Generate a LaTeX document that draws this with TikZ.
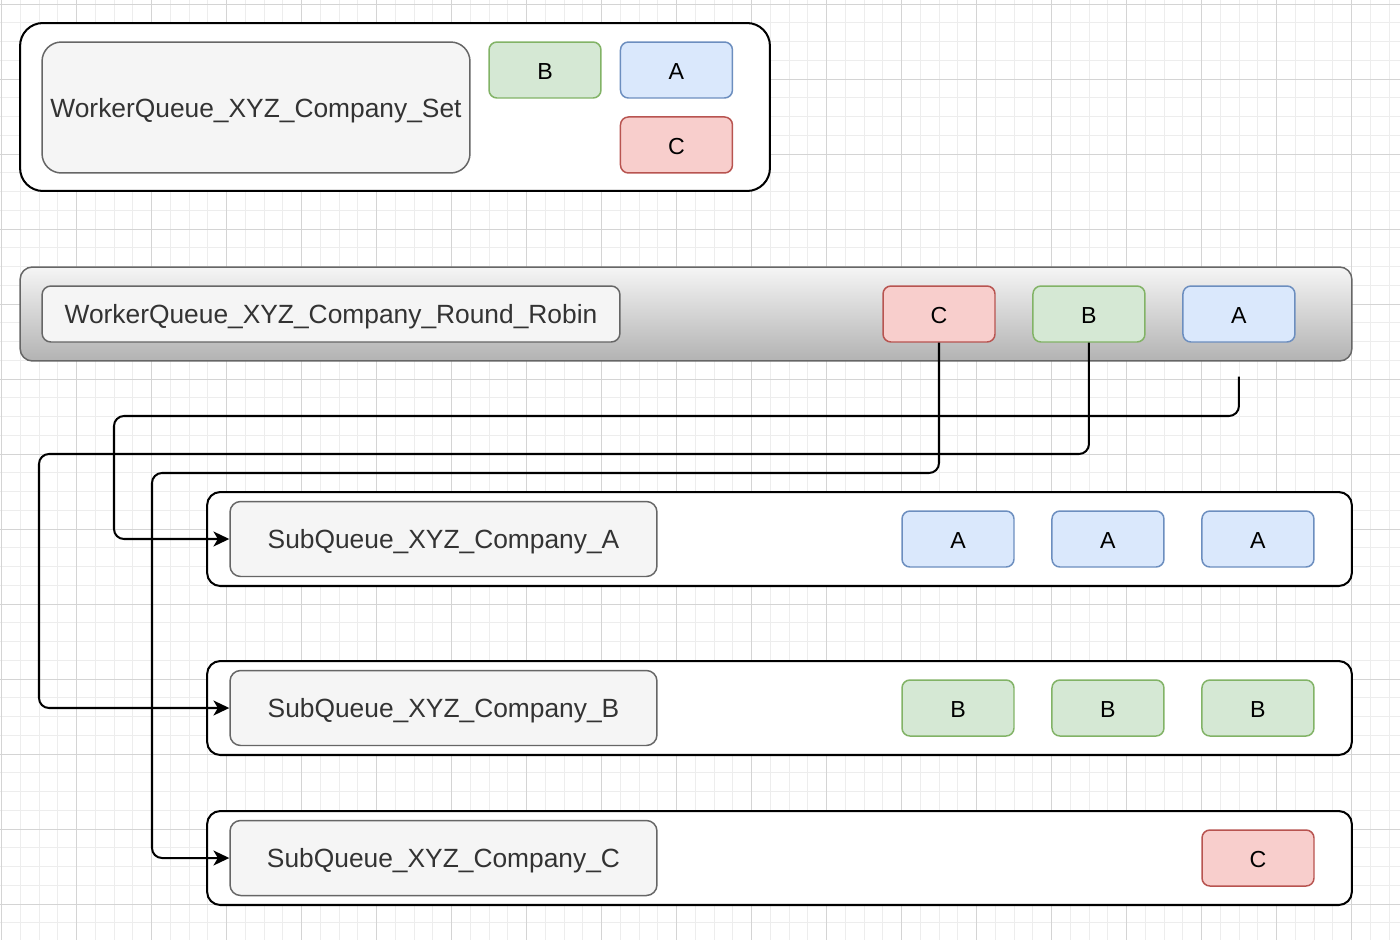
\documentclass[tikz,border=0pt]{standalone}
\usepackage{fontspec}
\setmainfont{Liberation Sans}
\usetikzlibrary{positioning,arrows.meta}

\definecolor{redfill}{HTML}{F8CECC}
\definecolor{redline}{HTML}{B85450}
\definecolor{greenfill}{HTML}{D5E8D4}
\definecolor{greenline}{HTML}{82B366}
\definecolor{bluefill}{HTML}{DAE8FC}
\definecolor{blueline}{HTML}{6C8EBF}
\definecolor{namefill}{HTML}{F5F5F5}
\definecolor{nameline}{HTML}{666666}

\begin{document}
\begin{tikzpicture}[x=0.02cm,y=-0.02cm,
    gridmin/.style={draw=black!7,line width=0.55pt},
    gridmaj/.style={draw=black!17,line width=0.55pt},
% Item styles
    itemr/.style={rectangle,rounded corners=4.5pt,draw=redline,fill=redfill,
		line width=0.85pt,minimum width=2.24cm,minimum height=1.12cm,
		text height=10.9pt,font=\fontsize{13.2pt}{16pt}\selectfont},
    itemg/.style={itemr,draw=greenline,fill=greenfill},
    itemb/.style={itemr,draw=blueline,fill=bluefill},
% Queue styles
    qname/.style={rectangle,rounded corners=5pt,draw=nameline,fill=namefill,
		line width=0.85pt,text=black!80,inner sep=0pt,text height=14.2pt,
		font=\fontsize{15pt}{18pt}\selectfont},
    qbox/.style={rectangle,rounded corners=7.5pt,draw,fill=white,
		line width=1.15pt,minimum width=22.9cm,minimum height=1.88cm},
    link/.style={draw,line width=1.15pt,rounded corners=0.2cm,
		-{Stealth[length=9pt,width=8.5pt,inset=2.5pt]}}
    ]
   \useasboundingbox (0,0) rectangle (1400,940);
   \fill [white] (0,0) rectangle (1400,940);
%%% Background grid
   \foreach \i in {0,...,74}
      \draw [gridmin] ({1.5+18.75*\i},0) -- ({1.5+18.75*\i},940);
   \foreach \j in {0,...,49}
      \draw [gridmin] (0,{4+18.75*\j}) -- (1400,{4+18.75*\j});
   \foreach \i in {0,...,18}
      \draw [gridmaj] ({1.5+75*\i},0) -- ({1.5+75*\i},940);
   \foreach \j in {0,...,12}
      \draw [gridmaj] (0,{4+75*\j}) -- (1400,{4+75*\j});

%%% Set queue
   \begin{scope}[node distance=2.63cm,on grid]
      \node [rectangle,rounded corners=13pt,draw,fill=white,line width=1.15pt,
             minimum width=15cm,minimum height=3.36cm] (setbox) at (395,107) {};
      \node [qname,rounded corners=11pt,minimum width=8.56cm,minimum height=2.62cm]
            (setname) at (256,107.5) {WorkerQueue\_XYZ\_Company\_Set};
      \node [itemg] (setb) at (545,70) {B};
      \node [itemb,right=of setb] (seta) {A};
      \node [itemr,below=1.5cm of seta] (setc) {C};
   \end{scope}

%%% Round robin queue
   \begin{scope}[node distance=3cm,on grid]
      \node [rectangle,rounded corners=7pt,draw=nameline,line width=0.85pt,
             top color=black!4,bottom color=black!30,
             minimum width=26.64cm,minimum height=1.88cm] (rrbar) at (686,314) {};
      \node [qname,minimum width=11.56cm,minimum height=1.12cm]
            (rrname) at (331,314) {WorkerQueue\_XYZ\_Company\_Round\_Robin};
      \node [itemr] (rrc) at (939,314) {C};
      \node [itemg,right=of rrc] (rrb) {B};
      \node [itemb,right=of rrb] (rra) {A};
   \end{scope}

%%% Sub queues
   \begin{scope}[node distance=3cm,on grid,
		sqname/.style={qname,rounded corners=6pt,minimum width=8.54cm,
		minimum height=1.5cm}]
      \node [qbox] (sqa) at (779.5,539) {};
      \node [sqname] (qa) at (443.5,539) {SubQueue\_XYZ\_Company\_A};
      \node [itemb] (qa1) at (958,539) {A};
      \node [itemb,right=of qa1] (qa2) {A};
      \node [itemb,right=of qa2] (qa3) {A};

      \node [qbox] (sqb) at (779.5,708) {};
      \node [sqname] (qb) at (443.5,708) {SubQueue\_XYZ\_Company\_B};
      \node [itemg] (qb1) at (958,708) {B};
      \node [itemg,right=of qb1] (qb2) {B};
      \node [itemg,right=of qb2] (qb3) {B};

      \node [qbox] (sqc) at (779.5,858) {};
      \node [sqname] (qc) at (443.5,858) {SubQueue\_XYZ\_Company\_C};
      \node [itemr] (qc1) at (1258,858) {C};
   \end{scope}

%%% Routing
   \coordinate (astart) at ([yshift=-19.3pt]rra.south);
   \coordinate (turna) at (114,416);
   \coordinate (turnb) at (39,454);
   \coordinate (turnc) at (152,473);

   \draw [link] (astart) |- (turna) |- (qa.west);
   \draw [link] (rrb.south) |- (turnb) |- (qb.west);
   \draw [link] (rrc.south) |- (turnc) |- (qc.west);
\end{tikzpicture}
\end{document}
